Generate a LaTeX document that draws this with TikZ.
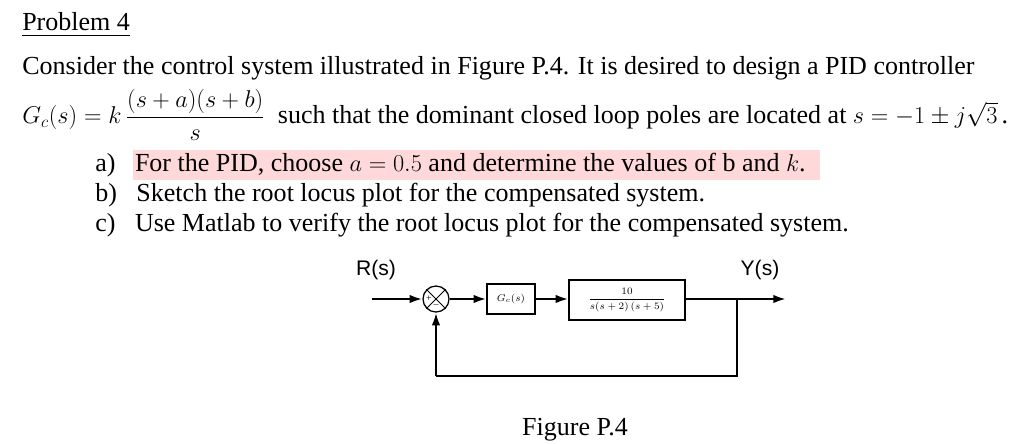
\documentclass[tikz,border=0pt]{standalone}
\usepackage{amsmath}
\usepackage{fontspec}
\setmainfont{Liberation Serif}
\setsansfont{Liberation Sans}
\usetikzlibrary{arrows.meta}
\begin{document}
\begin{tikzpicture}[x=0.025cm,y=-0.025cm,
  txt/.style={anchor=west,inner sep=0pt,font=\fontsize{18.5}{21}\selectfont},
  blk/.style={draw,line width=0.9pt,inner sep=0pt},
  sig/.style={line width=1.6pt,-{Latex[length=9pt,width=6pt]}},
  wire/.style={line width=1.6pt}]
\useasboundingbox (0,0) rectangle (1024,443);
\fill[red!15] (133,150) rectangle (820,180);
\node[txt] (title) at (22,22) {Problem 4};
\draw[line width=0.6pt] (22,35) -- (130,35);
\node[txt] (l1) at (22,68) {Consider the control system illustrated in Figure P.4. It is desired to design a PID controller};
\node[txt] (l2) at (22,115) {$G_c(s)=k\,\dfrac{(s+a)(s+b)}{s}$\ \ such that the dominant closed loop poles are located at $s=-1\pm j\sqrt{3}\,$.};
\node[txt] (la) at (95,165) {a)\ \ \ For the PID, choose $a=0.5$ and determine the values of b and $k$.};
\node[txt] (lb) at (95,195) {b)\ \ \ Sketch the root locus plot for the compensated system.};
\node[txt] (lc) at (95,225) {c)\ \ \ Use Matlab to verify the root locus plot for the compensated system.};
% diagram
\node[font=\sffamily\fontsize{15}{17}\selectfont] (R) at (376,270) {R(s)};
\node[font=\sffamily\fontsize{15}{17}\selectfont] (Y) at (760,270) {Y(s)};
\node[draw,circle,line width=0.9pt,minimum size=0.65cm,inner sep=0pt] (sum) at (436,299) {};
\draw[line width=0.6pt] (sum.north west) -- (sum.south east) (sum.north east) -- (sum.south west);
\node[font=\fontsize{7}{8}\selectfont,inner sep=0pt] (plus) at (429,299) {+};
\node[font=\fontsize{7}{8}\selectfont,inner sep=0pt] (minus) at (436,306) {--};
\node[blk,minimum width=1.2cm,minimum height=0.75cm,font=\fontsize{7.5}{8}\selectfont] (gc) at (511,299) {$G_c(s)$};
\node[blk,minimum width=2.9cm,minimum height=1.0cm,font=\fontsize{7.5}{8}\selectfont] (gp) at (627,300) {$\dfrac{10}{s(s+2)\,(s+5)}$};
\coordinate (in) at (372,299);
\coordinate (out) at (786,299);
\coordinate (br) at (737,299);
\coordinate (bot1) at (737,376);
\coordinate (bot2) at (436,376);
\draw[sig] (in) -- (sum);
\draw[sig] (sum) -- (gc);
\draw[sig] (gc) -- (gp.west|-gc);
\draw[sig] (gp.east|-br) -- (out);
\draw[wire] (br) -- (bot1) -- (bot2);
\draw[sig] (bot2) -- (sum);
\node[font=\fontsize{18.5}{21}\selectfont] (fig) at (575,430) {Figure P.4};
\end{tikzpicture}
\end{document}
